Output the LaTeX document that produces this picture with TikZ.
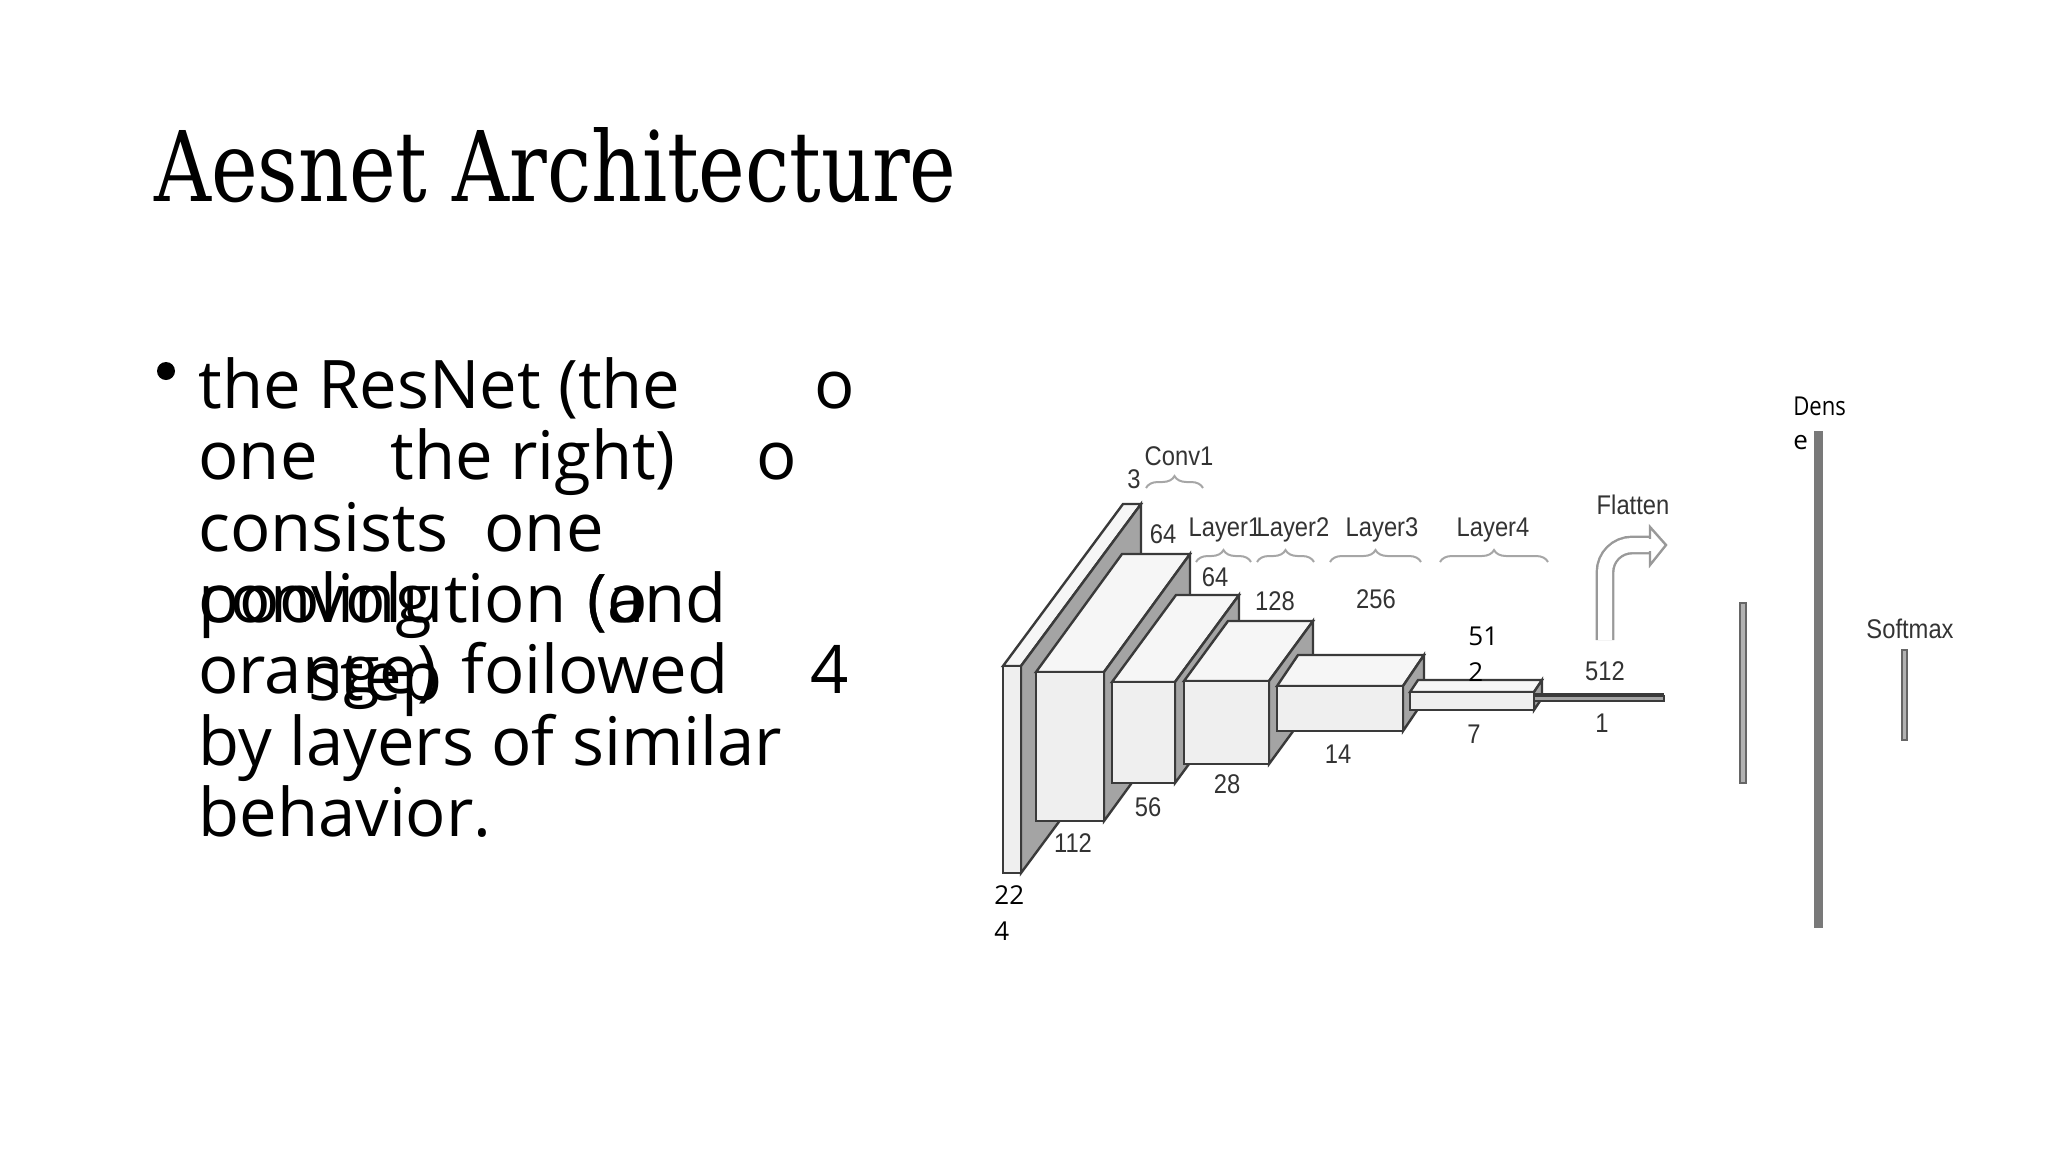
\documentclass[tikz,border=0pt]{standalone}
\usepackage{fontspec}
\setmainfont{Open Sans}
\newfontfamily\titlefont{DejaVu Serif Condensed}
\newfontfamily\labfont{Liberation Sans}
\usetikzlibrary{decorations.pathreplacing}
\definecolor{edge}{HTML}{3A3A3A}
\definecolor{frontc}{HTML}{EFEFEF}
\definecolor{topc}{HTML}{F6F6F6}
\definecolor{sidec}{HTML}{A4A4A4}
\definecolor{labc}{HTML}{333333}
\newcommand\blk[6]{%
 \filldraw[fill=topc,draw=edge,line width=1.2pt] (#1,#3) -- (#2,#3) -- ++(#5,-#6) -- ++({#1-#2},0) -- cycle;
 \filldraw[fill=sidec,draw=edge,line width=1.2pt] (#2,#3) -- ++(#5,-#6) -- ++(0,{#4-#3}) -- (#2,#4) -- cycle;
 \filldraw[fill=frontc,draw=edge,line width=1.2pt] (#1,#3) rectangle (#2,#4);}
\begin{document}
\begin{tikzpicture}[x=0.5pt,y=-0.5pt,
 body/.style={anchor=base west,inner sep=0,font=\fontsize{33.5}{38}\selectfont},
 lab/.style={inner sep=0,text=labc,font=\labfont\fontsize{13.5}{15}\selectfont,xscale=0.88},
 olab/.style={inner sep=0,anchor=base west,font=\fontsize{13}{15}\selectfont},
 br/.style={draw=gray!70,line width=1pt,decorate,decoration={brace,amplitude=6}}]
\useasboundingbox (0,0) rectangle (2048,1152);
% title
\node[anchor=base west,inner sep=0] (title) at (154,201) {\resizebox{401pt}{37pt}{\titlefont Aesnet Architecture}};
% bullet text
\fill (166,371) circle (9) coordinate (bul);
\node[body] (l1a) at (198,408) {the ResNet (the};
\node[body] (l1b) at (814,408) {o};
\node[body] (l2a) at (198,479) {one};
\node[body] (l2b) at (390,479) {the right)};
\node[body] (l2c) at (756,479) {o};
\node[body] (l3a) at (198,551) {consists};
\node[body] (l3b) at (484,551) {one};
\node[body] (l4a) at (198,622) {convolution};
\node[body] (l4b) at (587,622) {(and};
\node[body] (l4c) at (198,622) {pooling};
\node[body] (l4d) at (587,622) {(o};
\node[body] (l5a) at (198,693) {orange)};
\node[body] (l5b) at (461,693) {foilowed};
\node[body] (l5c) at (810,693) {4};
\node[body] (l5d) at (308,700) {step};
\node[body] (l6) at (198,765) {by layers of similar};
\node[body] (l7) at (198,836) {behavior.};
% blocks
\blk{1003}{1021}{666}{873}{120}{162}
\blk{1036}{1104}{672}{821}{86}{118}
\blk{1112}{1175}{682}{783}{64}{87}
\blk{1184}{1269}{681}{764}{44}{60}
\blk{1277}{1403}{686}{731}{21}{31}
\blk{1410}{1534}{692}{710}{8}{12}
\filldraw[fill=sidec,draw=edge,line width=1pt] (1534,696) rectangle (1664,701);
\draw[edge,line width=0.8pt] (1534,694) -- (1664,694);
% braces
\draw[br] (1146,488) -- (1203,488);
\draw[br] (1196,562) -- (1251,562);
\draw[br] (1257,562) -- (1314,562);
\draw[br] (1330,562) -- (1421,562);
\draw[br] (1440,562) -- (1548,562);
% labels
\node[lab] (n3) at (1134,479) {3};
\node[lab] (conv1) at (1179,456) {Conv1};
\node[lab] (n64a) at (1163,534) {64};
\node[lab] (lay1) at (1225,530) {Layer1};
\node[lab] (lay2) at (1293,530) {Layer2};
\node[lab] (lay3) at (1382,530) {Layer3};
\node[lab] (lay4) at (1493,530) {Layer4};
\node[lab] (flat) at (1633,505) {Flatten};
\node[lab] (n64b) at (1215,577) {64};
\node[lab] (n128) at (1275,601) {128};
\node[lab] (n256) at (1376,599) {256};
\node[lab] (n512) at (1605,671) {512};
\node[lab] (n1) at (1602,723) {1};
\node[lab] (n7) at (1474,734) {7};
\node[lab] (n14) at (1338,754) {14};
\node[lab] (n28) at (1227,784) {28};
\node[lab] (n56) at (1148,807) {56};
\node[lab] (n112) at (1073,843) {112};
\node[lab] (soft) at (1910,629) {Softmax};
\node[olab] (o51) at (1468,645) {51};
\node[olab] (o2) at (1468,681) {2};
\node[olab] (o22) at (994,904) {22};
\node[olab] (o4) at (994,940) {4};
\node[olab,xscale=0.85] (den) at (1793,415) {Dens};
\node[olab] (dene) at (1793,449) {e};
% flatten arrow
\draw[gray!80,line width=1.2pt,double=white,double distance=7pt] (1605,640) -- (1605,572) arc (180:270:27) -- (1651,545);
\filldraw[fill=white,draw=gray!80,line width=1.2pt] (1650,527) -- (1666,545) -- (1650,565) -- cycle;
\fill[white] (1645,539) rectangle (1652,551);
% bars
\fill[gray!95!black] (1814,431) rectangle (1823,928);
\filldraw[fill=gray!60,draw=gray!80!black,line width=0.8pt] (1740,603) rectangle (1746,783);
\filldraw[fill=gray!60,draw=gray!80!black,line width=0.8pt] (1902,650) rectangle (1907,740);
\end{tikzpicture}
\end{document}
